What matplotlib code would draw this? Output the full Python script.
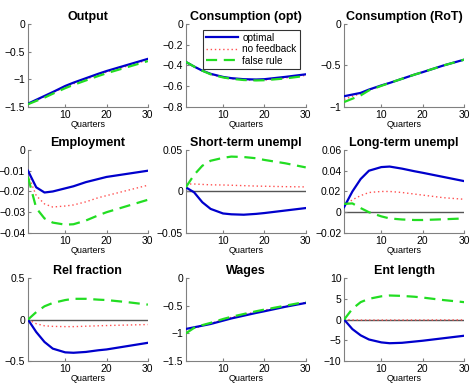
import numpy as np
import matplotlib
matplotlib.use("Agg")
import matplotlib.pyplot as plt

plt.rcParams['font.family'] = ['Liberation Sans', 'DejaVu Sans']

# Panel titles and y ranges / ticks
titles = ['Output', 'Consumption (opt)', 'Consumption (RoT)',
          'Employment', 'Short-term unempl', 'Long-term unempl',
          'Rel fraction', 'Wages', 'Ent length']
ylims = [(-1.5, 0), (-0.8, 0), (-1, 0),
         (-0.04, 0), (-0.05, 0.05), (-0.02, 0.06),
         (-0.5, 0.5), (-1.5, 0), (-10, 10)]
yticks = [[-1.5, -1, -0.5, 0], [-0.8, -0.6, -0.4, -0.2, 0], [-1, -0.5, 0],
          [-0.04, -0.03, -0.02, -0.01, 0], [-0.05, 0, 0.05], [-0.02, 0, 0.02, 0.04, 0.06],
          [-0.5, 0, 0.5], [-1.5, -1, -0.5, 0], [-10, -5, 0, 5, 10]]
ytlabels = [['-1.5', '-1', '-0.5', '0'], ['-0.8', '-0.6', '-0.4', '-0.2', '0'], ['-1', '-0.5', '0'],
            ['-0.04', '-0.03', '-0.02', '-0.01', '0'], ['-0.05', '0', '0.05'],
            ['-0.02', '0', '0.02', '0.04', '0.06'],
            ['-0.5', '0', '0.5'], ['-1.5', '-1', '-0.5', '0'], ['-10', '-5', '0', '5', '10']]
zero_line = [False, False, False, False, True, True, True, False, True]

# quarters at which values were read
q = [1, 3, 5, 7, 10, 12, 15, 18, 20, 25, 30]

optimal = [
    [-1.44, -1.37, -1.30, -1.23, -1.12, -1.06, -0.98, -0.90, -0.85, -0.74, -0.63],
    [-0.365, -0.41, -0.45, -0.48, -0.51, -0.522, -0.532, -0.535, -0.532, -0.51, -0.485],
    [-0.87, -0.85, -0.83, -0.79, -0.74, -0.71, -0.66, -0.61, -0.58, -0.50, -0.43],
    [-0.010, -0.018, -0.0205, -0.020, -0.0185, -0.0175, -0.0155, -0.014, -0.013, -0.0115, -0.010],
    [0.005, -0.001, -0.013, -0.021, -0.0265, -0.0275, -0.028, -0.027, -0.026, -0.023, -0.020],
    [0.005, 0.020, 0.032, 0.040, 0.0435, 0.044, 0.042, 0.0395, 0.038, 0.034, 0.030],
    [0.0, -0.15, -0.27, -0.35, -0.395, -0.40, -0.39, -0.37, -0.36, -0.32, -0.28],
    [-0.92, -0.89, -0.86, -0.83, -0.77, -0.73, -0.68, -0.63, -0.60, -0.52, -0.45],
    [0.0, -2.3, -3.8, -4.8, -5.5, -5.7, -5.6, -5.3, -5.1, -4.5, -3.9],
]
no_feedback = [
    [-1.45, -1.38, -1.31, -1.24, -1.14, -1.08, -1.00, -0.92, -0.87, -0.76, -0.65],
    [-0.365, -0.41, -0.45, -0.485, -0.515, -0.527, -0.538, -0.542, -0.540, -0.52, -0.495],
    [-0.91, -0.87, -0.84, -0.795, -0.745, -0.71, -0.66, -0.61, -0.58, -0.50, -0.43],
    [-0.012, -0.022, -0.026, -0.0275, -0.027, -0.0265, -0.025, -0.023, -0.022, -0.0195, -0.017],
    [0.009, 0.009, 0.0085, 0.008, 0.0078, 0.0075, 0.007, 0.0065, 0.0063, 0.0058, 0.0055],
    [0.006, 0.012, 0.016, 0.019, 0.020, 0.020, 0.019, 0.0175, 0.0165, 0.014, 0.0125],
    [0.0, -0.05, -0.075, -0.082, -0.085, -0.085, -0.08, -0.075, -0.072, -0.066, -0.06],
    [-0.96, -0.91, -0.86, -0.82, -0.75, -0.71, -0.66, -0.61, -0.58, -0.51, -0.44],
    [0.0, -0.1, -0.12, -0.12, -0.12, -0.12, -0.11, -0.1, -0.1, -0.09, -0.08],
]
false_rule = [
    [-1.45, -1.39, -1.33, -1.26, -1.16, -1.10, -1.02, -0.94, -0.89, -0.78, -0.67],
    [-0.365, -0.41, -0.45, -0.485, -0.515, -0.528, -0.54, -0.544, -0.542, -0.525, -0.50],
    [-0.94, -0.90, -0.86, -0.80, -0.745, -0.71, -0.66, -0.61, -0.58, -0.50, -0.43],
    [-0.013, -0.028, -0.033, -0.035, -0.036, -0.0358, -0.034, -0.0315, -0.030, -0.027, -0.024],
    [0.005, 0.020, 0.031, 0.037, 0.0405, 0.042, 0.0415, 0.040, 0.038, 0.034, 0.029],
    [0.008, 0.0085, 0.004, 0.000, -0.004, -0.006, -0.007, -0.0075, -0.0075, -0.0068, -0.006],
    [0.0, 0.09, 0.16, 0.20, 0.235, 0.25, 0.25, 0.24, 0.235, 0.21, 0.18],
    [-1.00, -0.90, -0.85, -0.81, -0.74, -0.70, -0.65, -0.60, -0.57, -0.50, -0.43],
    [0.0, 2.6, 4.2, 5.0, 5.6, 5.8, 5.7, 5.5, 5.3, 4.7, 4.2],
]

fig = plt.figure(figsize=(4.74, 3.87), dpi=100)
lefts = [0.059, 0.392, 0.726]
bottoms = [0.7235, 0.398, 0.067]
w, hgt = 0.253, 0.2145
grey = '#808080'

for i in range(9):
    r, c = divmod(i, 3)
    ax = fig.add_axes([lefts[c], bottoms[r], w, hgt])
    if zero_line[i]:
        ax.axhline(0, color='#555555', lw=1.0, zorder=1)
    ax.plot(q, optimal[i], color='#0000cc', lw=1.6, label='optimal', zorder=3)
    ax.plot(q, no_feedback[i], color='#ff5050', lw=1.0, ls=(0, (1, 2)),
            label='no feedback', zorder=2)
    ax.plot(q, false_rule[i], color='#22dd22', lw=1.6, ls=(0, (5, 3)),
            label='false rule', zorder=4)
    ax.set_xlim(1, 30)
    ax.set_ylim(*ylims[i])
    ax.set_xticks([10, 20, 30])
    ax.set_yticks(yticks[i])
    ax.set_yticklabels([s.replace('-', '\u2212') for s in ytlabels[i]])
    ax.spines['top'].set_visible(False)
    ax.spines['right'].set_visible(False)
    ax.spines['left'].set_color(grey)
    ax.spines['bottom'].set_color(grey)
    ax.tick_params(direction='in', length=2, color=grey, labelsize=7.5, pad=2)
    ax.set_title(titles[i], fontsize=9, fontweight='bold', pad=3)
    ax.set_xlabel('Quarters', fontsize=6.5, labelpad=0)
    if i == 1:
        leg = ax.legend(loc='upper right', fontsize=7.2, frameon=True, fancybox=False,
                        edgecolor='black', handlelength=3.2, borderpad=0.3,
                        labelspacing=0.15, handletextpad=0.4,
                        bbox_to_anchor=(0.99, 0.99))
        leg.get_frame().set_linewidth(0.8)

fig.savefig('out.png', dpi=100)
